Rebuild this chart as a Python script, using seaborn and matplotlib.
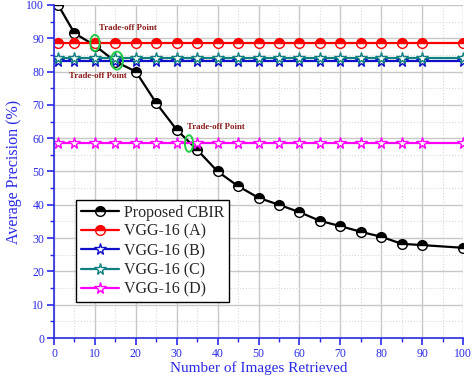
import numpy as np
import pandas as pd
import matplotlib
matplotlib.use("Agg")
import matplotlib.pyplot as plt
import seaborn as sns
from matplotlib.patches import Ellipse
from matplotlib.ticker import MultipleLocator

# values
n_images = [1, 5, 10, 15, 20, 25, 30, 35, 40, 45, 50, 55, 60, 65, 70, 75, 80, 85, 90, 100]
proposed = [100, 91.5, 87.8, 83.0, 80.0, 70.5, 62.5, 56.5, 50.0, 45.6, 42.1, 40.0,
            37.8, 35.2, 33.6, 31.9, 30.4, 28.3, 27.9, 27.1]
vgg_a = 88.7
vgg_b = 83.1
vgg_c = 84.1
vgg_d = 58.6

series_names = ["Proposed CBIR", "VGG-16 (A)", "VGG-16 (B)", "VGG-16 (C)", "VGG-16 (D)"]
tradeoff_x = [10, 15.4, 33]
tradeoff_y = [88.6, 83.3, 58.4]

sns.set_style("whitegrid")
plt.rcParams['font.family'] = ['Liberation Serif', 'DejaVu Serif']

fig = plt.figure(figsize=(4.74, 3.79), dpi=100)
ax = fig.add_axes([0.114, 0.108, 0.863, 0.879])

blue = "#2a2ae6"
styles = [
    dict(color="black", marker="o", fillstyle="top", markerfacecoloralt="white", markersize=7),
    dict(color="red", marker="o", fillstyle="top", markerfacecoloralt="white", markersize=7),
    dict(color="#1010c8", marker="*", markerfacecolor="white", markersize=8.5),
    dict(color="#108080", marker="*", markerfacecolor="white", markersize=8.5),
    dict(color="magenta", marker="*", markerfacecolor="white", markersize=8.5),
]
values = [proposed, [vgg_a] * len(n_images), [vgg_b] * len(n_images),
          [vgg_c] * len(n_images), [vgg_d] * len(n_images)]

for name, vals, st in zip(series_names, values, styles):
    sns.lineplot(x=n_images, y=vals, ax=ax, label=name, linewidth=1.6,
                 markeredgewidth=1.0, markeredgecolor=st["color"], **st)

ax.set_xlim(0, 100)
ax.set_ylim(0, 100)
ax.xaxis.set_major_locator(MultipleLocator(10))
ax.xaxis.set_minor_locator(MultipleLocator(5))
ax.yaxis.set_major_locator(MultipleLocator(10))
ax.yaxis.set_minor_locator(MultipleLocator(5))
ax.grid(which="major", color="#c8c8c8", linestyle="-", linewidth=1.0)
ax.grid(which="minor", color="#d8d8d8", linestyle=":", linewidth=0.8)
ax.set_axisbelow(True)

for s in ["top", "right"]:
    ax.spines[s].set_visible(False)
for s in ["left", "bottom"]:
    ax.spines[s].set_color(blue)
    ax.spines[s].set_linewidth(1.2)
ax.tick_params(which="both", colors=blue, direction="out", labelsize=8.5, pad=2)
ax.tick_params(which="major", length=5, width=1.2, left=True, bottom=True)
ax.tick_params(which="minor", length=3, width=1.0, left=True, bottom=True)

ax.set_xlabel("Number of Images Retrieved", color=blue, fontsize=11, labelpad=1)
ax.set_ylabel("Average Precision (%)", color=blue, fontsize=11.5, labelpad=3)

# trade-off markers
for tx, ty, w, h in zip(tradeoff_x, tradeoff_y, [2.3, 2.9, 2.0], [4.8, 5.4, 5.0]):
    ax.add_patch(Ellipse((tx, ty), w, h, fill=False, edgecolor="#22cc44", linewidth=1.4, zorder=5))
ax.text(18, 93.2, "Trade-off Point", color="#8b1a1a", fontsize=6.3, fontweight="bold", ha="center", va="center")
ax.text(10.8, 78.7, "Trade-off Point", color="#8b1a1a", fontsize=6.3, fontweight="bold", ha="center", va="center")
ax.text(39.6, 63.4, "Trade-off Point", color="#8b1a1a", fontsize=6.3, fontweight="bold", ha="center", va="center")

leg = ax.legend(loc="lower left", bbox_to_anchor=(0.054, 0.108), fontsize=11.5,
                frameon=True, fancybox=False, edgecolor="black", framealpha=1,
                handlelength=2.4, handletextpad=0.3, borderpad=0.3, labelspacing=0.2,
                borderaxespad=0)
leg.get_frame().set_linewidth(1.0)

fig.savefig("out.png", dpi=100)
